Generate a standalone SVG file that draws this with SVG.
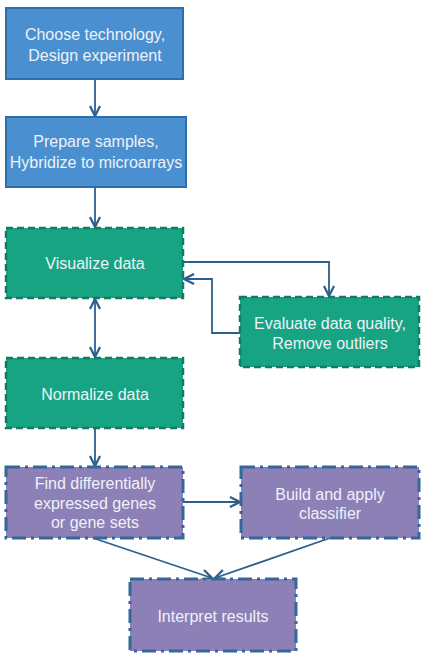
<svg xmlns="http://www.w3.org/2000/svg" width="428" height="658" viewBox="0 0 428 658">
<style>
text{font-family:"Liberation Sans",Arial,sans-serif;font-size:16px;fill:#eef2f8;text-anchor:middle}
.blue{fill:#4a90d0;stroke:#2f6ea6;stroke-width:2}
.teal{fill:#17a483;stroke:#147a66;stroke-width:2.5;stroke-dasharray:7 4}
.purp{fill:#8c80b6;stroke:#34679a;stroke-width:3;stroke-dasharray:14 5 3 5}
.c{fill:none;stroke:#2d5f8c;stroke-width:1.8}
</style>
<defs>
<marker id="a" viewBox="0 0 10 10" refX="9" refY="5" markerWidth="7" markerHeight="7" orient="auto-start-reverse"><path d="M1,1 L9,5 L1,9" fill="none" stroke="#2d5f8c" stroke-width="1.8"/></marker>
</defs>
<g id="connectors">
<line class="c" x1="95" y1="79" x2="95" y2="116" marker-end="url(#a)"/>
<line class="c" x1="95" y1="187" x2="95" y2="227" marker-end="url(#a)"/>
<polyline class="c" points="183,262 329,262 329,296" marker-end="url(#a)"/>
<polyline class="c" points="240,333 212,333 212,279 184,279" marker-end="url(#a)"/>
<line class="c" x1="95" y1="299" x2="95" y2="357" marker-start="url(#a)" marker-end="url(#a)"/>
<line class="c" x1="95" y1="428" x2="95" y2="466" marker-end="url(#a)"/>
<line class="c" x1="183" y1="502" x2="240" y2="502" marker-end="url(#a)"/>
<line class="c" x1="93" y1="538" x2="212" y2="578" marker-end="url(#a)"/>
<line class="c" x1="330" y1="538" x2="215" y2="578" marker-end="url(#a)"/>
</g>
<g id="n1"><rect class="blue" x="6" y="8" width="177" height="71"/><text x="95" y="40">Choose technology,</text><text x="95" y="61">Design experiment</text></g>
<g id="n2"><rect class="blue" x="6" y="117" width="180" height="70"/><text x="96" y="147">Prepare samples,</text><text x="96" y="168">Hybridize to microarrays</text></g>
<g id="n3"><rect class="teal" x="6" y="228" width="177" height="70"/><text x="95" y="269">Visualize data</text></g>
<g id="n4"><rect class="teal" x="240" y="297" width="179" height="70"/><text x="330" y="329">Evaluate data quality,</text><text x="330" y="349">Remove outliers</text></g>
<g id="n5"><rect class="teal" x="6" y="358" width="177" height="70"/><text x="95" y="400">Normalize data</text></g>
<g id="n6"><rect class="purp" x="6" y="467" width="177" height="71"/><text x="95" y="489">Find differentially</text><text x="95" y="509">expressed genes</text><text x="95" y="528">or gene sets</text></g>
<g id="n7"><rect class="purp" x="241" y="467" width="178" height="71"/><text x="330" y="500">Build and apply</text><text x="330" y="519">classifier</text></g>
<g id="n8"><rect class="purp" x="130" y="579" width="166" height="72"/><text x="213" y="622">Interpret results</text></g>
</svg>
